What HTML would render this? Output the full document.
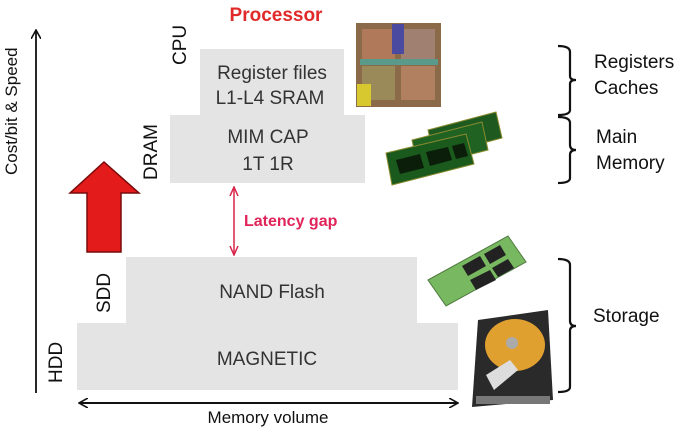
<!DOCTYPE html>
<html><head><meta charset="utf-8"><style>
html,body{margin:0;padding:0;background:#fff;}
svg{display:block;}
text{font-family:"Liberation Sans",Arial,sans-serif;}
</style></head><body>
<svg width="685" height="433" viewBox="0 0 685 433" xmlns="http://www.w3.org/2000/svg">
<defs>
<marker id="ah" markerWidth="10" markerHeight="10" refX="9" refY="5" orient="auto-start-reverse" markerUnits="userSpaceOnUse"><path d="M0,0 L9,5 L0,10" fill="none" stroke="#111" stroke-width="1.6"/></marker>
<marker id="ahr" markerWidth="10" markerHeight="10" refX="9" refY="5" orient="auto-start-reverse" markerUnits="userSpaceOnUse"><path d="M0,1 L9,5 L0,9" fill="none" stroke="#d8254a" stroke-width="1.5"/></marker>
</defs>
<!-- pyramid -->
<rect x="200" y="49" width="144" height="67" fill="#e4e4e4"/>
<rect x="170" y="115" width="195" height="68" fill="#e4e4e4"/>
<rect x="126" y="257" width="291" height="67" fill="#e4e4e4"/>
<rect x="77" y="323" width="381" height="67" fill="#e4e4e4"/>
<g font-size="19" fill="#333" text-anchor="middle">
<text x="272" y="79">Register files</text>
<text x="270" y="104">L1-L4 SRAM</text>
<text x="268" y="143">MIM CAP</text>
<text x="268" y="170">1T 1R</text>
<text x="272" y="298">NAND Flash</text>
<text x="267" y="365">MAGNETIC</text>
</g>
<text x="276" y="21" font-size="19" font-weight="bold" fill="#e02a2a" text-anchor="middle">Processor</text>
<g font-size="19" fill="#111">
<text transform="translate(186,65) rotate(-90)">CPU</text>
<text transform="translate(157,180) rotate(-90)">DRAM</text>
<text transform="translate(110,313) rotate(-90)">SDD</text>
<text transform="translate(62,383) rotate(-90)">HDD</text>
</g>
<text transform="translate(17,175) rotate(-90)" font-size="17" fill="#111">Cost/bit &amp; Speed</text>
<!-- axes -->
<line x1="36" y1="393" x2="36" y2="30" stroke="#111" stroke-width="1.8" marker-end="url(#ah)"/>
<line x1="79" y1="403" x2="458" y2="403" stroke="#111" stroke-width="2" marker-start="url(#ah)" marker-end="url(#ah)"/>
<text x="268" y="423" font-size="17" fill="#111" text-anchor="middle">Memory volume</text>
<!-- red arrow -->
<path d="M87,252 L87,193 L70,193 L104,162 L139,193 L121,193 L121,252 Z" fill="#e31b1b" stroke="#7a0a0a" stroke-width="1.5"/>
<!-- latency -->
<line x1="234" y1="187" x2="234" y2="255" stroke="#d8254a" stroke-width="1.5" marker-start="url(#ahr)" marker-end="url(#ahr)"/>
<text x="244" y="226" font-size="16" font-weight="bold" fill="#e0245a">Latency gap</text>
<!-- brackets -->
<g fill="none" stroke="#111" stroke-width="2.2">
<path d="M558,46 Q570,46 570,52 L570,76 Q570,80 576,80 Q570,80 570,84 L570,110 Q570,115 558,115"/>
<path d="M558,117 Q570,117 570,123 L570,145 Q570,150 576,150 Q570,150 570,155 L570,178 Q570,183 558,183"/>
<path d="M558,259 Q570,259 570,265 L570,321 Q570,326 576,326 Q570,326 570,331 L570,387 Q570,392 558,392"/>
</g>
<g font-size="19" fill="#111">
<text x="594" y="68">Registers</text>
<text x="594" y="94">Caches</text>
<text x="596" y="143">Main</text>
<text x="596" y="169">Memory</text>
<text x="593" y="322">Storage</text>
</g>
<!-- CPU chip image -->
<rect x="356" y="23" width="85" height="84" fill="#8a6a48"/>
<rect x="362" y="29" width="33" height="30" fill="#b07a5a"/>
<rect x="401" y="29" width="34" height="30" fill="#a08070"/>
<rect x="362" y="66" width="33" height="34" fill="#9a8a5a"/>
<rect x="401" y="66" width="34" height="34" fill="#b08060"/>
<rect x="392" y="24" width="12" height="30" fill="#4a4aa0"/>
<rect x="357" y="84" width="14" height="22" fill="#d8c830"/>
<rect x="360" y="59" width="78" height="6" fill="#5a9a8a"/>
<!-- RAM sticks -->
<g stroke="#8a8a30" stroke-width="1">
<polygon points="428,130 496,112 502,138 434,156" fill="#1e5a20"/>
<polygon points="412,140 482,122 488,150 418,168" fill="#1f6222"/>
<polygon points="386,153 466,134 474,164 392,185" fill="#1a5a1c"/>
</g>
<g fill="#0a1e0a">
<polygon points="396,160 420,154 424,168 400,174"/>
<polygon points="426,152 448,147 452,160 430,166"/>
<polygon points="452,146 464,143 468,156 456,159"/>
</g>
<!-- SSD -->
<polygon points="428,280 508,236 526,262 446,306" fill="#78b860" stroke="#507a40"/>
<g fill="#222">
<polygon points="462,266 480,256 486,266 468,276"/>
<polygon points="484,254 500,245 506,255 490,264"/>
<polygon points="470,280 490,270 496,280 476,290"/>
<polygon points="492,268 508,259 514,268 498,277"/>
</g>
<!-- HDD -->
<polygon points="478,320 548,310 553,400 472,407" fill="#2a2a2a"/>
<ellipse cx="515" cy="345" rx="30" ry="26" fill="#e0a030"/>
<circle cx="512" cy="343" r="6" fill="#aaa"/>
<polygon points="486,375 510,360 518,370 494,390" fill="#ddd"/>
<rect x="476" y="396" width="74" height="8" fill="#777"/>
</svg>
</body></html>
